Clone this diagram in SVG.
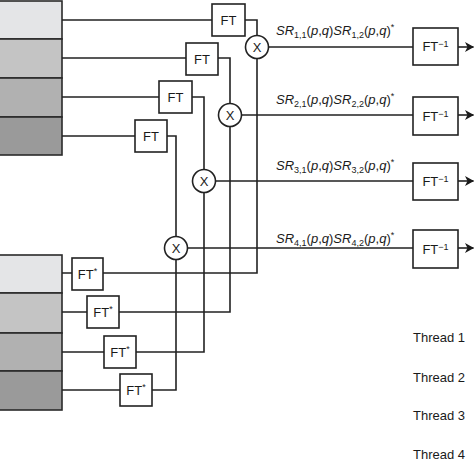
<svg xmlns="http://www.w3.org/2000/svg" width="474" height="474" viewBox="0 0 474 474">
<defs>
<style>
.bar{stroke:#2a2a2a;stroke-width:1.6}
.box{fill:#fff;stroke:#222;stroke-width:1.6}
.ln{fill:none;stroke:#222;stroke-width:1.6}
.t{font-family:"Liberation Sans",Arial,sans-serif;font-size:13px;fill:#1a1a1a}
.c{text-anchor:middle}
.i{font-style:italic}
.sub{font-size:9px}
</style>
<marker id="arr" markerWidth="9" markerHeight="10" refX="8.5" refY="5" orient="auto" markerUnits="userSpaceOnUse">
<path d="M0,0 L9,5 L0,10 L2.5,5 Z" fill="#1a1a1a"/>
</marker>
</defs>
<rect width="474" height="474" fill="#fff"/>

<g id="stack-top">
<rect class="bar" x="-5" y="1" width="67" height="38" fill="#e4e5e7"/>
<rect class="bar" x="-5" y="39" width="67" height="39" fill="#c4c4c4"/>
<rect class="bar" x="-5" y="78" width="67" height="39" fill="#b1b1b1"/>
<rect class="bar" x="-5" y="117" width="67" height="38" fill="#9a9a9a"/>
</g>
<g id="stack-bottom">
<rect class="bar" x="-5" y="255" width="67" height="38" fill="#e4e5e7"/>
<rect class="bar" x="-5" y="293" width="67" height="40" fill="#c4c4c4"/>
<rect class="bar" x="-5" y="333" width="67" height="38" fill="#b1b1b1"/>
<rect class="bar" x="-5" y="371" width="67" height="39" fill="#9a9a9a"/>
</g>

<g id="connectors">
<path class="ln" d="M62,20 H212 M245,20 H257 V35.5 M62,58 H186 M218,58 H230 V103.5 M62,97 H159 M192,97 H204 V169.5 M62,136 H135 M167,136 H176 V236.5"/>
<path class="ln" d="M257,58.5 V273 H103 M72,273 H62 M230,126.5 V312 H119 M87,312 H62 M204,192.5 V352 H136 M104,352 H62 M176,259.5 V390 H152 M120,390 H62"/>
<path class="ln" d="M268.5,47 H413 M241.5,115 H413 M215.5,181 H413 M187.5,248 H413"/>
<line class="ln" x1="458" y1="47" x2="473.5" y2="47" marker-end="url(#arr)"/>
<line class="ln" x1="458" y1="115" x2="473.5" y2="115" marker-end="url(#arr)"/>
<line class="ln" x1="458" y1="181" x2="473.5" y2="181" marker-end="url(#arr)"/>
<line class="ln" x1="458" y1="248" x2="473.5" y2="248" marker-end="url(#arr)"/>
</g>

<g id="ft1"><rect class="box" x="212" y="4" width="33" height="32"/><text class="t c" x="228.5" y="25">FT</text></g>
<g id="ft2"><rect class="box" x="186" y="43" width="32" height="32"/><text class="t c" x="202" y="64">FT</text></g>
<g id="ft3"><rect class="box" x="159" y="81" width="33" height="32"/><text class="t c" x="175.5" y="102">FT</text></g>
<g id="ft4"><rect class="box" x="135" y="120" width="32" height="32"/><text class="t c" x="151" y="141">FT</text></g>

<g id="ftc1"><rect class="box" x="72" y="258" width="31" height="32"/><text class="t c" x="87.5" y="279">FT<tspan class="sub" dy="-5">*</tspan></text></g>
<g id="ftc2"><rect class="box" x="87" y="296" width="32" height="32"/><text class="t c" x="103" y="317">FT<tspan class="sub" dy="-5">*</tspan></text></g>
<g id="ftc3"><rect class="box" x="104" y="336" width="32" height="32"/><text class="t c" x="120" y="357">FT<tspan class="sub" dy="-5">*</tspan></text></g>
<g id="ftc4"><rect class="box" x="120" y="374" width="32" height="32"/><text class="t c" x="136" y="395">FT<tspan class="sub" dy="-5">*</tspan></text></g>

<g id="x1"><circle class="box" cx="257" cy="47" r="11.5"/><text class="t c" x="257" y="52">X</text></g>
<g id="x2"><circle class="box" cx="230" cy="115" r="11.5"/><text class="t c" x="230" y="120">X</text></g>
<g id="x3"><circle class="box" cx="204" cy="181" r="11.5"/><text class="t c" x="204" y="186">X</text></g>
<g id="x4"><circle class="box" cx="176" cy="248" r="11.5"/><text class="t c" x="176" y="253">X</text></g>

<g id="ifft1"><rect class="box" x="413" y="28" width="45" height="37"/><text class="t c" x="435.5" y="51">FT<tspan class="sub" dy="-4">−1</tspan></text></g>
<g id="ifft2"><rect class="box" x="413" y="97" width="45" height="38"/><text class="t c" x="435.5" y="121">FT<tspan class="sub" dy="-4">−1</tspan></text></g>
<g id="ifft3"><rect class="box" x="413" y="163" width="45" height="37"/><text class="t c" x="435.5" y="186">FT<tspan class="sub" dy="-4">−1</tspan></text></g>
<g id="ifft4"><rect class="box" x="413" y="230" width="45" height="38"/><text class="t c" x="435.5" y="254">FT<tspan class="sub" dy="-4">−1</tspan></text></g>

<g id="labels">
<text class="t" x="276" y="35"><tspan class="i">SR</tspan><tspan class="sub" dy="3">1,1</tspan><tspan dy="-3">(</tspan><tspan class="i">p</tspan>,<tspan class="i">q</tspan>)<tspan class="i">SR</tspan><tspan class="sub" dy="3">1,2</tspan><tspan dy="-3">(</tspan><tspan class="i">p</tspan>,<tspan class="i">q</tspan>)<tspan class="sub" dy="-5">*</tspan></text>
<text class="t" x="276" y="104"><tspan class="i">SR</tspan><tspan class="sub" dy="3">2,1</tspan><tspan dy="-3">(</tspan><tspan class="i">p</tspan>,<tspan class="i">q</tspan>)<tspan class="i">SR</tspan><tspan class="sub" dy="3">2,2</tspan><tspan dy="-3">(</tspan><tspan class="i">p</tspan>,<tspan class="i">q</tspan>)<tspan class="sub" dy="-5">*</tspan></text>
<text class="t" x="276" y="170"><tspan class="i">SR</tspan><tspan class="sub" dy="3">3,1</tspan><tspan dy="-3">(</tspan><tspan class="i">p</tspan>,<tspan class="i">q</tspan>)<tspan class="i">SR</tspan><tspan class="sub" dy="3">3,2</tspan><tspan dy="-3">(</tspan><tspan class="i">p</tspan>,<tspan class="i">q</tspan>)<tspan class="sub" dy="-5">*</tspan></text>
<text class="t" x="276" y="243"><tspan class="i">SR</tspan><tspan class="sub" dy="3">4,1</tspan><tspan dy="-3">(</tspan><tspan class="i">p</tspan>,<tspan class="i">q</tspan>)<tspan class="i">SR</tspan><tspan class="sub" dy="3">4,2</tspan><tspan dy="-3">(</tspan><tspan class="i">p</tspan>,<tspan class="i">q</tspan>)<tspan class="sub" dy="-5">*</tspan></text>
<text class="t" x="413" y="342">Thread 1</text>
<text class="t" x="413" y="382">Thread 2</text>
<text class="t" x="413" y="420">Thread 3</text>
<text class="t" x="413" y="459">Thread 4</text>
</g>
</svg>
